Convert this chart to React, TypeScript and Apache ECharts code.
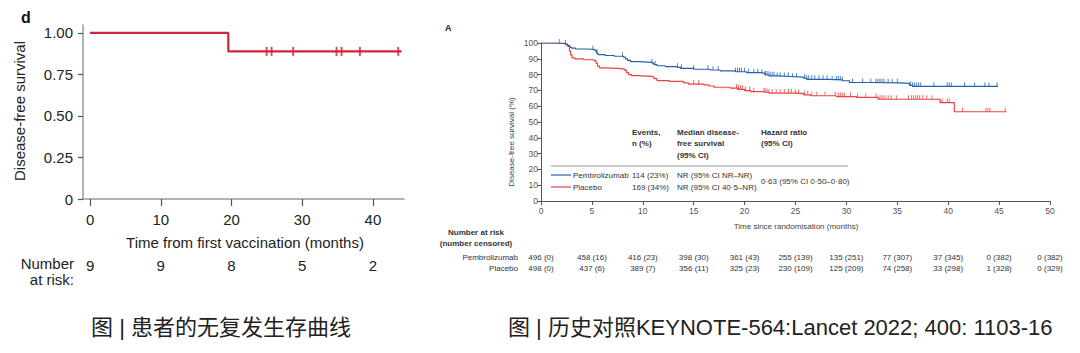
import React, { useEffect, useRef } from "react";
import * as echarts from "echarts";

// ---------- Left panel (d) ----------
const leftTimes = [0, 19.55, 44.05];
const leftSurv = [1.0, 0.889, 0.889];
const leftCensor = [24.97, 25.67, 28.73, 34.86, 35.57, 38.16, 43.58];
const leftTicksX = [0, 10, 20, 30, 40];
const leftTicksY = [0, 0.25, 0.5, 0.75, 1.0];
const leftAtRisk = ["9", "9", "8", "5", "2"];

// ---------- Right panel (A) ----------
const pembroTimes = [0, 1.2, 2.3, 2.6, 2.8, 3.0, 3.4, 4.6, 5.3, 5.45, 5.6, 6.3, 7.2, 8.1, 8.3, 8.5, 8.8, 9.6, 10.9, 11.1, 11.4, 12.2, 13.4, 13.7, 15.0, 16.6, 17.6, 19.1, 20.2, 21.6, 22.0, 22.4, 23.2, 24.6, 25.8, 26.1, 28.2, 29.6, 30.3, 32.2, 35.1, 36.2, 36.5, 44.9];
const pembroSurv = [100, 99.7, 99.3, 98.4, 97.4, 96.7, 96.2, 95.8, 95.2, 93.6, 92.6, 92.1, 91.6, 91.0, 90.0, 89.0, 88.2, 87.8, 87.3, 86.3, 85.6, 85.1, 84.6, 84.0, 83.4, 82.9, 82.4, 81.8, 81.2, 80.8, 79.8, 79.2, 78.8, 78.4, 77.8, 77.0, 76.6, 76.1, 75.0, 74.8, 74.4, 73.2, 72.5, 72.5];
const placeboTimes = [0, 1.9, 2.4, 2.65, 2.8, 2.9, 3.05, 3.3, 4.2, 5.2, 5.4, 5.55, 5.75, 6.2, 7.6, 8.2, 8.4, 8.6, 8.9, 9.5, 10.9, 11.1, 11.4, 12.6, 14.0, 14.5, 16.0, 16.5, 17.0, 18.6, 19.3, 20.0, 20.6, 21.6, 22.4, 25.0, 25.8, 26.5, 29.0, 31.0, 33.1, 39.2, 40.6, 45.7];
const placeboSurv = [100, 99.6, 99.0, 97.8, 95.0, 92.5, 90.6, 89.9, 89.4, 88.8, 87.2, 85.4, 84.3, 83.9, 83.5, 82.8, 81.2, 80.0, 79.3, 78.9, 78.5, 77.4, 76.2, 75.7, 74.8, 74.0, 73.5, 72.8, 72.0, 71.5, 70.7, 69.9, 69.2, 68.8, 68.3, 68.0, 67.2, 66.6, 66.1, 65.6, 64.4, 62.3, 56.5, 56.5];
const pembroCensor = [2.4, 5.1, 5.5, 8.0, 10.9, 11.2, 13.4, 13.8, 15.0, 16.4, 16.9, 17.4, 19.1, 19.3, 19.5, 19.7, 20.0, 20.4, 20.9, 21.3, 21.7, 22.0, 22.1, 22.3, 22.5, 22.7, 22.9, 23.2, 23.5, 23.9, 24.3, 24.7, 25.1, 25.9, 26.1, 26.3, 26.6, 26.9, 27.3, 27.7, 28.1, 28.6, 29.0, 29.2, 29.4, 29.6, 30.6, 31.6, 32.4, 32.9, 33.1, 33.3, 33.5, 33.7, 34.1, 34.5, 35.0, 36.3, 36.5, 36.7, 36.9, 37.1, 37.3, 38.6, 39.9, 40.1, 40.3, 41.6, 42.6, 43.6, 44.0, 44.8];
const placeboCensor = [1.8, 15.0, 15.5, 19.2, 19.4, 19.6, 19.8, 20.1, 20.5, 20.9, 21.9, 22.0, 22.2, 22.4, 22.7, 23.1, 23.5, 23.9, 24.3, 24.6, 25.0, 25.3, 25.9, 26.2, 26.6, 27.1, 27.9, 28.9, 29.2, 29.4, 29.6, 29.8, 30.4, 31.1, 31.9, 32.9, 33.2, 33.4, 33.6, 33.8, 34.1, 34.4, 34.9, 36.1, 36.4, 36.6, 36.8, 37.0, 37.2, 37.5, 37.9, 38.4, 39.4, 39.9, 40.1, 41.4, 43.7, 43.9, 44.1, 45.6];
const rightTicksX = [0, 5, 10, 15, 20, 25, 30, 35, 40, 45, 50];
const pembroAtRisk = ["496 (0)", "458 (16)", "416 (23)", "398 (30)", "361 (43)", "255 (139)", "135 (251)", "77 (307)", "37 (345)", "0 (382)", "0 (382)"];
const placeboAtRisk = ["498 (0)", "437 (6)", "389 (7)", "356 (11)", "325 (23)", "230 (109)", "125 (209)", "74 (258)", "33 (298)", "1 (328)", "0 (329)"];

const FONT_L = "'Liberation Sans', Arial, Helvetica, sans-serif";
const FONT_R = "'Liberation Sans', Arial, sans-serif";
const FONT_C = "'Liberation Sans', 'Noto Sans CJK SC', sans-serif";

const RED_L = "#cf2536";
const BLUE = "#2461aa";
const RED_R = "#f0403c";
const RS = 8; // right panel font size

function survAt(times: number[], surv: number[], t: number) {
  let v = surv[0];
  for (let i = 0; i < times.length; i++) if (times[i] <= t) v = surv[i];
  return v;
}
const zip = (a: number[], b: number[]) => a.map((x, i) => [x, b[i]]);

function txt(text: string, x: number, y: number, o: any = {}) {
  const align = o.align || "left";
  const va = o.va || "middle";
  return {
    type: "text",
    x,
    y,
    rotation: o.rotation || 0,
    style: {
      text,
      fontSize: o.size || RS,
      fontFamily: o.family || FONT_R,
      fontWeight: o.weight || "normal",
      fill: o.color || "#333",
      align,
      verticalAlign: va,
      textAlign: align,
      textVerticalAlign: va,
    },
  };
}
function ln(x1: number, y1: number, x2: number, y2: number, stroke: string, w: number) {
  return { type: "line", shape: { x1, y1, x2, y2 }, style: { stroke, lineWidth: w } };
}

export default function App() {
  const ref = useRef<HTMLDivElement>(null);
  useEffect(() => {
    const chart = echarts.init(ref.current!, null, { renderer: "svg" });
    const hidden = { show: false };
    const option: any = {
      animation: false,
      backgroundColor: "#fff",
      grid: [
        { left: 83, top: 25, width: 321, height: 174 },
        { left: 83, top: 254, width: 321, height: 1 },
        { left: 541, top: 43, width: 509, height: 158 },
        { left: 541, top: 247, width: 509, height: 1 },
        { left: 541, top: 258, width: 509, height: 1 },
      ],
      xAxis: [
        {
          gridIndex: 0, type: "value", min: -1, max: 44.4,
          axisLine: { show: true, onZero: false, lineStyle: { color: "#9a9a9a", width: 1.5 } },
          axisTick: { show: true, length: 7, customValues: leftTicksX, lineStyle: { color: "#555", width: 1.2 } },
          axisLabel: { customValues: leftTicksX, fontSize: 15, color: "#222", fontFamily: FONT_L, margin: 13 },
          splitLine: hidden,
        },
        {
          gridIndex: 1, type: "value", min: -1, max: 44.4,
          axisLine: hidden, axisTick: hidden, splitLine: hidden,
          axisLabel: {
            customValues: leftTicksX, fontSize: 15, color: "#222", fontFamily: FONT_L, margin: 10, verticalAlign: "middle",
            formatter: (v: number) => leftAtRisk[leftTicksX.indexOf(v)] ?? "",
          },
        },
        {
          gridIndex: 2, type: "value", min: 0, max: 50, interval: 5,
          axisLine: { show: true, onZero: false, lineStyle: { color: "#555", width: 1 } },
          axisTick: { show: true, length: 4, lineStyle: { color: "#555", width: 1 } },
          axisLabel: { fontSize: 8.5, color: "#555", fontFamily: FONT_R, margin: 5 },
          splitLine: hidden,
        },
        {
          gridIndex: 3, type: "value", min: 0, max: 50, interval: 5,
          axisLine: hidden, axisTick: hidden, splitLine: hidden,
          axisLabel: {
            fontSize: RS, color: "#333", fontFamily: FONT_R, margin: 9, verticalAlign: "middle",
            showMinLabel: true, showMaxLabel: true,
            formatter: (v: number) => pembroAtRisk[rightTicksX.indexOf(v)] ?? "",
          },
        },
        {
          gridIndex: 4, type: "value", min: 0, max: 50, interval: 5,
          axisLine: hidden, axisTick: hidden, splitLine: hidden,
          axisLabel: {
            fontSize: RS, color: "#333", fontFamily: FONT_R, margin: 9, verticalAlign: "middle",
            showMinLabel: true, showMaxLabel: true,
            formatter: (v: number) => placeboAtRisk[rightTicksX.indexOf(v)] ?? "",
          },
        },
      ],
      yAxis: [
        {
          gridIndex: 0, type: "value", min: 0, max: 1.048,
          axisLine: { show: true, onZero: false, lineStyle: { color: "#9a9a9a", width: 1.5 } },
          axisTick: { show: true, length: 5, customValues: leftTicksY, lineStyle: { color: "#555", width: 1.2 } },
          axisLabel: {
            customValues: leftTicksY, fontSize: 15, color: "#222", fontFamily: FONT_L, margin: 10,
            formatter: (v: number) => (v === 0 ? "0" : v.toFixed(2)),
          },
          splitLine: hidden,
        },
        { gridIndex: 1, type: "value", show: false },
        {
          gridIndex: 2, type: "value", min: 0, max: 100, interval: 10,
          axisLine: { show: true, onZero: false, lineStyle: { color: "#555", width: 1 } },
          axisTick: { show: true, length: 4, lineStyle: { color: "#555", width: 1 } },
          axisLabel: { fontSize: 8.5, color: "#555", fontFamily: FONT_R, margin: 3 },
          splitLine: hidden,
        },
        { gridIndex: 3, type: "value", show: false },
        { gridIndex: 4, type: "value", show: false },
      ],
      series: [
        {
          type: "line", xAxisIndex: 0, yAxisIndex: 0, step: "end", symbol: "none",
          data: zip(leftTimes, leftSurv),
          lineStyle: { color: RED_L, width: 2.2 },
        },
        {
          type: "scatter", xAxisIndex: 0, yAxisIndex: 0, symbol: "rect", symbolSize: [2, 9],
          itemStyle: { color: RED_L },
          data: leftCensor.map((t) => [t, survAt(leftTimes, leftSurv, t)]),
        },
        {
          type: "line", xAxisIndex: 2, yAxisIndex: 2, step: "end", symbol: "none",
          data: zip(placeboTimes, placeboSurv),
          lineStyle: { color: RED_R, width: 1.2 },
        },
        {
          type: "scatter", xAxisIndex: 2, yAxisIndex: 2, symbol: "rect", symbolSize: [1, 4], symbolOffset: [0, -2],
          itemStyle: { color: RED_R },
          data: placeboCensor.map((t) => [t, survAt(placeboTimes, placeboSurv, t)]),
        },
        {
          type: "line", xAxisIndex: 2, yAxisIndex: 2, step: "end", symbol: "none",
          data: zip(pembroTimes, pembroSurv),
          lineStyle: { color: BLUE, width: 1.2 },
        },
        {
          type: "scatter", xAxisIndex: 2, yAxisIndex: 2, symbol: "rect", symbolSize: [1, 4], symbolOffset: [0, -2],
          itemStyle: { color: BLUE },
          data: pembroCensor.map((t) => [t, survAt(pembroTimes, pembroSurv, t)]),
        },
      ],
      graphic: [
        // left panel texts
        txt("d", 21, 17.5, { size: 16, weight: "bold", family: FONT_L, color: "#111" }),
        txt("Disease-free survival", 19, 111, { size: 15, family: FONT_L, color: "#222", align: "center", rotation: Math.PI / 2 }),
        txt("Time from first vaccination (months)", 245, 242, { size: 15, family: FONT_L, color: "#222", align: "center" }),
        txt("Number", 74, 263, { size: 15, family: FONT_L, color: "#222", align: "right" }),
        txt("at risk:", 74, 279, { size: 15, family: FONT_L, color: "#222", align: "right" }),
        // right panel texts
        txt("A", 445, 28, { size: 9, weight: "bold", color: "#222" }),
        txt("Disease-free survival (%)", 511, 142, { color: "#444", align: "center", rotation: Math.PI / 2 }),
        txt("Time since randomisation (months)", 796, 226, { color: "#444", align: "center" }),
        txt("Number at risk", 476, 232, { weight: "bold", color: "#333", align: "center" }),
        txt("(number censored)", 476, 243, { weight: "bold", color: "#333", align: "center" }),
        txt("Pembrolizumab", 518, 257, { color: "#333", align: "right" }),
        txt("Placebo", 518, 268, { color: "#333", align: "right" }),
        // table in plot
        txt("Events,", 632, 132, { weight: "bold", color: "#333" }),
        txt("n (%)", 632, 143.5, { weight: "bold", color: "#333" }),
        txt("Median disease-", 677, 132, { weight: "bold", color: "#333" }),
        txt("free survival", 677, 143.5, { weight: "bold", color: "#333" }),
        txt("(95% CI)", 677, 155, { weight: "bold", color: "#333" }),
        txt("Hazard ratio", 761, 132, { weight: "bold", color: "#333" }),
        txt("(95% CI)", 761, 143.5, { weight: "bold", color: "#333" }),
        ln(551, 166, 848, 166, "#9a9a9a", 1),
        ln(551, 175, 571, 175, BLUE, 1.2),
        ln(551, 187, 571, 187, RED_R, 1.2),
        txt("Pembrolizumab", 573, 175, { color: "#333" }),
        txt("Placebo", 573, 187, { color: "#333" }),
        txt("114 (23%)", 632, 175, { color: "#333" }),
        txt("169 (34%)", 632, 187, { color: "#333" }),
        txt("NR (95% CI NR–NR)", 677, 175, { color: "#333" }),
        txt("NR (95% CI 40·5–NR)", 677, 187, { color: "#333" }),
        txt("0·63 (95% CI 0·50–0·80)", 761, 181, { color: "#333" }),
        // captions
        txt("图 | 患者的无复发生存曲线", 221, 327, { size: 22, family: FONT_C, color: "#222", align: "center" }),
        txt("图 | 历史对照KEYNOTE-564:Lancet 2022; 400: 1103-16", 508, 327, { size: 22, family: FONT_C, color: "#222" }),
      ],
    };
    chart.setOption(option);
    return () => chart.dispose();
  }, []);
  return (
    <div
      ref={ref}
      style={{ position: "absolute", left: 0, top: 0, width: 1080, height: 353, background: "#fff" }}
    />
  );
}
